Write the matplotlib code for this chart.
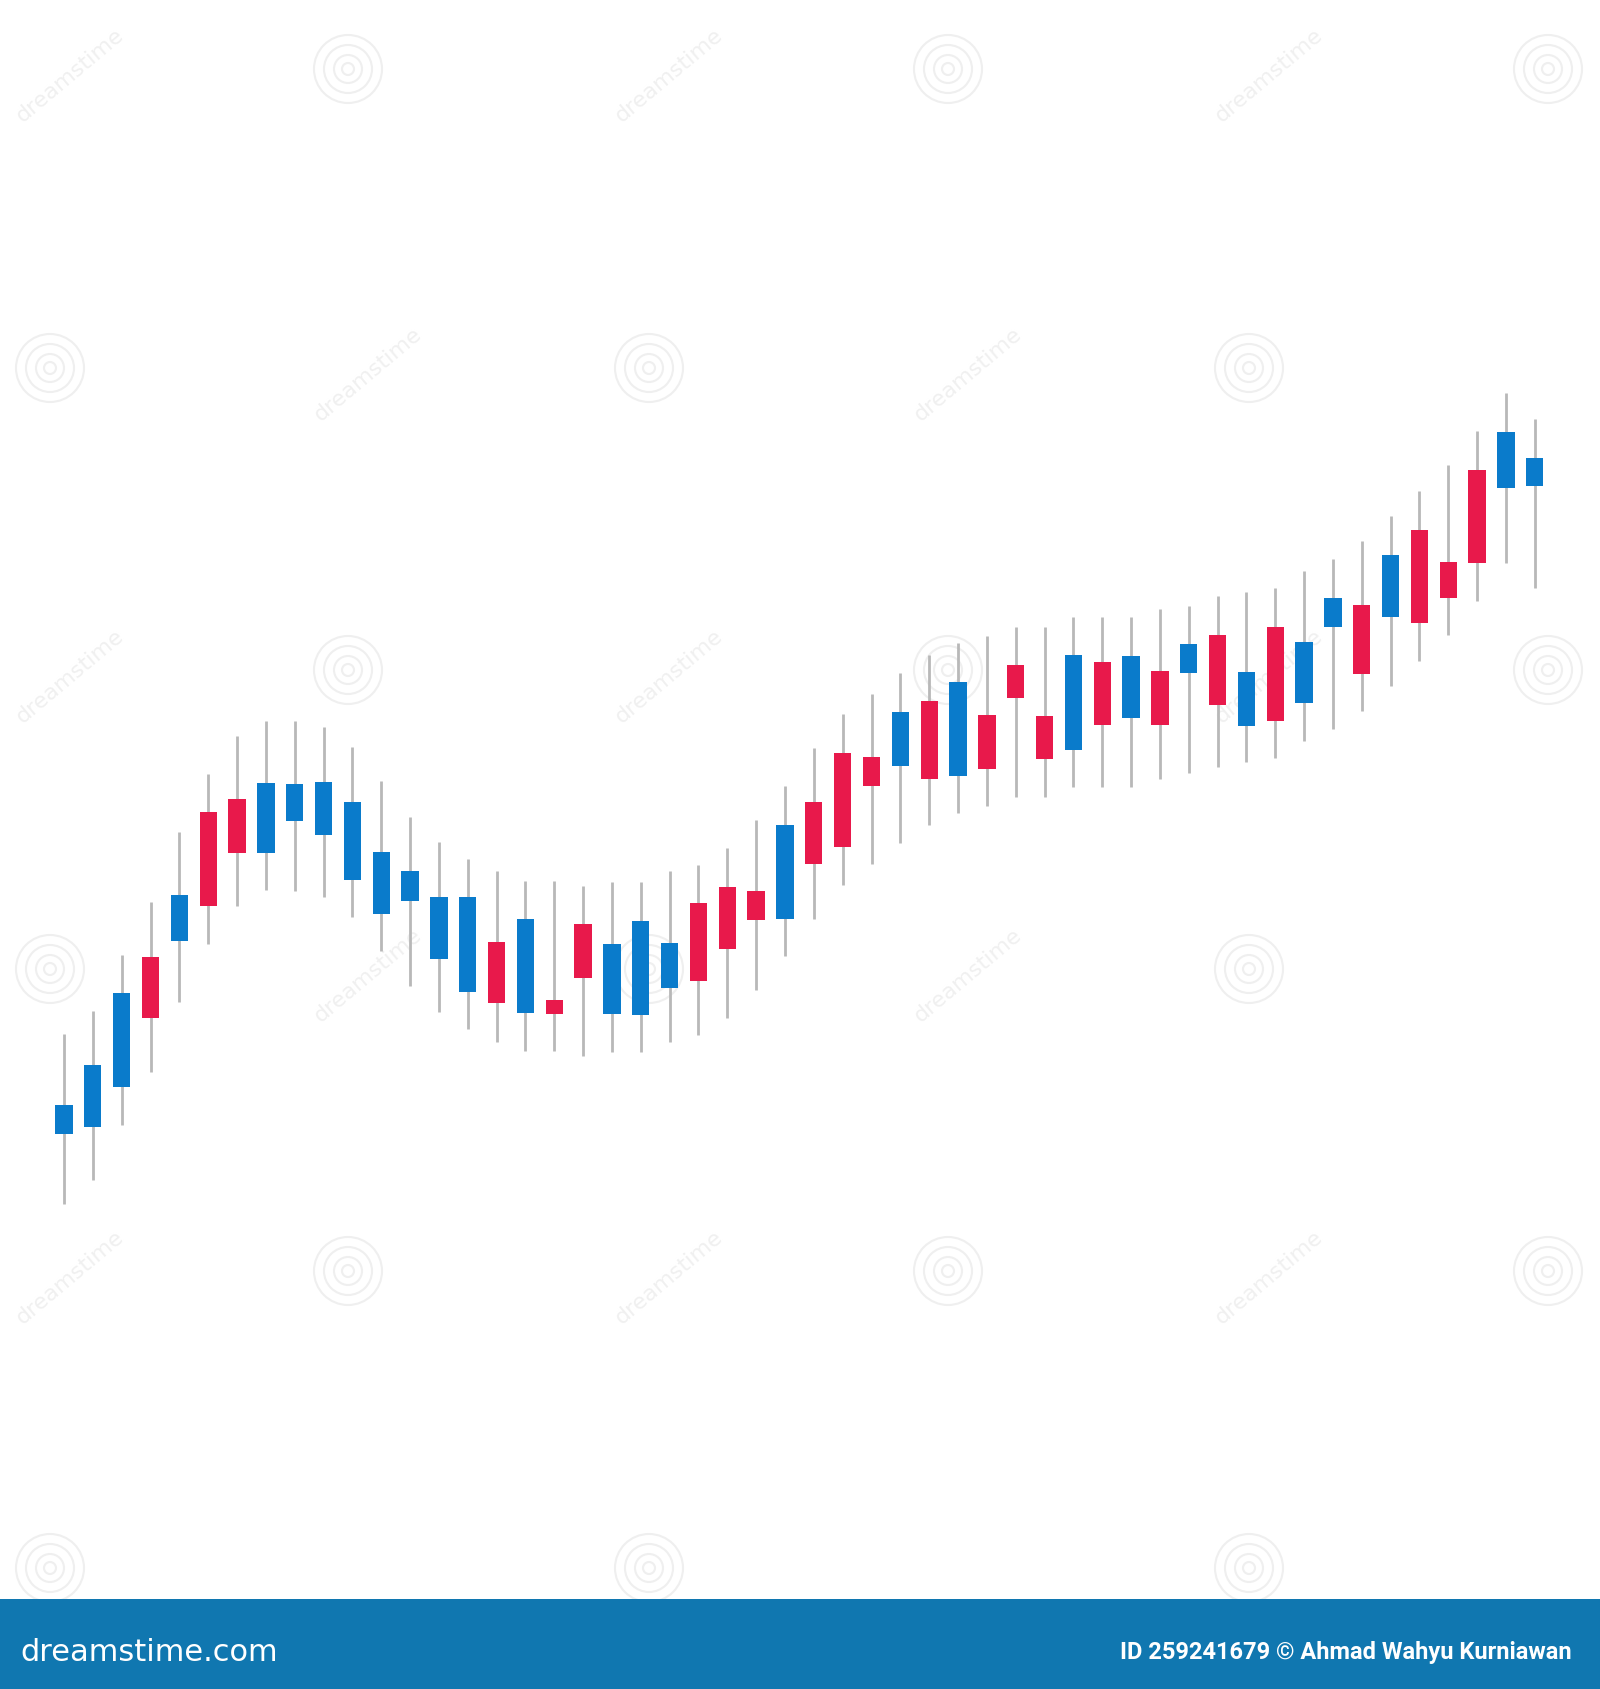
import matplotlib
matplotlib.use("Agg")
import matplotlib.pyplot as plt
from matplotlib.patches import Circle

# =========================
# DATA (price units)
# =========================
body_top = [58.4, 62.4, 69.6, 73.2, 79.4, 87.7, 89.0, 90.6, 90.5, 90.7,
            88.7, 83.7, 81.8, 79.2, 79.2, 74.7, 77.0, 68.9, 76.5, 74.5,
            76.8, 74.6, 78.6, 80.2, 79.8, 86.4, 88.7, 93.6, 93.2, 97.7,
            98.8, 100.7, 97.4, 102.4, 97.3, 103.4, 102.7, 103.3, 101.8, 104.5,
            105.4, 101.7, 106.2, 104.7, 109.1, 108.4, 113.4, 115.9, 112.7, 121.9,
            125.7, 123.1]
body_bot = [55.5, 56.2, 60.2, 67.1, 74.8, 78.3, 83.6, 83.6, 86.8, 85.4,
            80.9, 77.5, 78.8, 73.0, 69.7, 68.6, 67.6, 67.5, 71.1, 67.5,
            67.4, 70.1, 70.8, 74.0, 76.9, 77.0, 82.5, 84.2, 90.3, 92.3,
            91.0, 91.3, 92.0, 99.1, 93.0, 93.9, 96.4, 97.1, 96.4, 101.6,
            98.4, 96.3, 96.8, 98.6, 106.2, 101.5, 107.2, 106.6, 109.1, 112.6,
            120.1, 120.3]
high = [65.5, 67.8, 73.4, 78.7, 85.7, 91.5, 95.3, 96.8, 96.8, 96.2,
        94.2, 90.8, 87.2, 84.7, 83.0, 81.8, 80.8, 80.8, 80.3, 80.7,
        80.7, 81.8, 82.4, 84.1, 86.9, 90.3, 94.1, 97.5, 99.5, 101.6,
        103.4, 104.6, 105.3, 106.2, 106.2, 107.2, 107.2, 107.2, 108.0, 108.3,
        109.3, 109.7, 110.1, 111.8, 113.0, 114.8, 117.3, 119.8, 122.4, 125.8,
        129.6, 127.0]
low = [48.5, 50.9, 56.4, 61.7, 68.7, 74.5, 78.3, 79.9, 79.8, 79.2,
       77.2, 73.8, 70.3, 67.7, 66.0, 64.7, 63.8, 63.8, 63.3, 63.7,
       63.7, 64.7, 65.4, 67.1, 69.9, 73.3, 77.0, 80.4, 82.5, 84.6,
       86.4, 87.6, 88.3, 89.2, 89.2, 90.2, 90.2, 90.2, 91.0, 91.6,
       92.2, 92.7, 93.1, 94.8, 96.0, 97.8, 100.3, 102.8, 105.4, 108.8,
       112.6, 110.1]
kind = "bbbrbrrbbbbbbbbrbrrbbbrrrbrrrbrbrrrbrbrbrbrbbrbrrrbb"

BLUE = "#0a7bcb"
RED = "#e8194b"
WICK = "#b8b8b8"

# =========================
# PLOT
# =========================
fig = plt.figure(figsize=(16, 16.9), dpi=100)
fig.patch.set_facecolor("white")

# faint watermark layer (pixel coords)
wm = fig.add_axes([0, 0, 1, 1])
wm.set_xlim(0, 1600)
wm.set_ylim(1690, 0)
wm.axis("off")
rows = [70, 369, 671, 970, 1272, 1569]
cols_a = [348, 948, 1548]
cols_b = [50, 649, 1249]
for r, yy in enumerate(rows):
    cols = cols_a if r % 2 == 0 else cols_b
    for xx in cols:
        for rad in [34, 24, 14, 6]:
            wm.add_patch(Circle((xx, yy), rad, fill=False, ec="#efefef", lw=1.5))
    tcols = cols_b if r % 2 == 0 else cols_a
    for xx in tcols:
        if xx > 1400 or yy > 1500:
            continue
        wm.text(xx + 20, yy + 5, "dreamstime", color="#f0f0f0", fontsize=16,
                rotation=40, ha="center", va="center")

ax = fig.add_axes([0, 0, 1, 1])
ax.patch.set_alpha(0)
x = list(range(len(high)))
colors = [BLUE if k == "b" else RED for k in kind]
heights = [t - b for t, b in zip(body_top, body_bot)]
ax.vlines(x, low, high, color=WICK, lw=2, zorder=1)
ax.bar(x, heights, bottom=body_bot, width=0.6, color=colors, zorder=2)
ax.set_xlim(-2.219, 53.26)
ax.set_ylim(0, 169)
ax.axis("off")

# bottom banner
bar = fig.add_axes([0, 0, 1, 90 / 1690])
bar.set_facecolor("#1077b0")
bar.set_xticks([])
bar.set_yticks([])
for s in bar.spines.values():
    s.set_visible(False)
bar.text(0.013, 0.42, "dreamstime.com", color="white", fontsize=22,
         family="DejaVu Sans", ha="left", va="center", transform=bar.transAxes)
bar.text(0.982, 0.42, "ID 259241679 \u00a9 Ahmad Wahyu Kurniawan", color="white",
         fontsize=17, fontweight="bold", family="Roboto", ha="right", va="center",
         transform=bar.transAxes)

plt.savefig("out.png", dpi=100)
